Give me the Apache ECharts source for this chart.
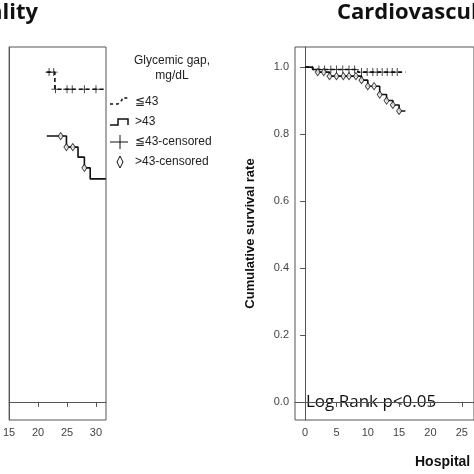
<!DOCTYPE html>
<html><head><meta charset="utf-8">
<script src="https://cdn.jsdelivr.net/npm/echarts@6/dist/echarts.min.js"></script>
<style>html,body{margin:0;padding:0;background:#fff}#c{width:474px;height:474px}</style>
</head><body><div id="c"></div>
<script>
// Left panel (All-cause mortality), visible part
const leftLowT = [21.5, 22.9, 31.7];
const leftLowS = [0.985, 0.934, 0.934];
const leftLowCensT = [21.9, 22.7, 23.0, 25.0, 25.9, 28.0, 30.0];
const leftLowCensS = [0.985, 0.985, 0.934, 0.934, 0.934, 0.934, 0.934];
const leftHighT = [21.5, 24.9, 26.9, 28.0, 29.0, 31.7];
const leftHighS = [0.794, 0.761, 0.731, 0.699, 0.666, 0.666];
const leftHighCensT = [23.9, 24.9, 26.0, 28.0];
const leftHighCensS = [0.794, 0.761, 0.761, 0.699];
// Right panel (Cardiovascular mortality), visible part
const rightLowT = [0, 1.2, 8.4, 16];
const rightLowS = [1.0, 0.993, 0.985, 0.985];
const rightLowCensT = [2.2, 3.1, 4.1, 5.0, 6.0, 7.0, 7.9, 9.0, 9.9, 10.8, 11.5, 12.3, 13.1, 13.9, 14.7];
const rightLowCensS = [0.993, 0.993, 0.993, 0.993, 0.993, 0.993, 0.993, 0.985, 0.985, 0.985, 0.985, 0.985, 0.985, 0.985, 0.985];
const rightHighT = [0, 1.2, 1.9, 3.9, 9.0, 10.0, 11.9, 13.0, 14.0, 15.0, 16];
const rightHighS = [1.0, 0.993, 0.985, 0.973, 0.961, 0.943, 0.918, 0.9, 0.887, 0.869, 0.869];
const rightHighCensT = [2.0, 2.97, 3.9, 5.0, 6.1, 7.0, 8.1, 9.0, 10.0, 11.0, 11.9, 13.0, 14.0, 15.0];
const rightHighCensS = [0.985, 0.985, 0.973, 0.973, 0.973, 0.973, 0.973, 0.961, 0.943, 0.943, 0.918, 0.9, 0.887, 0.869];
const yTicks = [0, 0.2, 0.4, 0.6, 0.8, 1.0];
const xTicks = [0, 5, 10, 15, 20, 25, 30];

const zip = (a, b) => a.map((v, i) => [v, b[i]]);
const plusPath = 'path://M0,4.4H10V5.6H0Z M4.4,0H5.6V10H4.4Z';
function line(t, s, gi, dashed) {
  return {type:'line', xAxisIndex:gi, yAxisIndex:gi, data:zip(t,s), step:'end', symbol:'none',
    lineStyle:{color:'#111', width:1.6, type: dashed ? [4,3] : 'solid'}, silent:true, clip:true};
}
function cens(t, s, gi, plus) {
  return {type:'scatter', xAxisIndex:gi, yAxisIndex:gi, data:zip(t,s),
    symbol: plus ? plusPath : 'diamond', symbolSize: plus ? 8 : [5,7],
    itemStyle: plus ? {color:'#111'} : {color:'#fff', borderColor:'#111', borderWidth:1}, silent:true, z:5};
}
const axX = (gi, min, max) => ({type:'value', gridIndex:gi, position:'bottom', min, max, splitLine:{show:false},
  axisLine:{show:true, lineStyle:{color:'#555'}},
  axisTick:{show:true, length:5, customValues:xTicks, lineStyle:{color:'#555'}},
  axisLabel:{customValues:xTicks, color:'#444', fontSize:11, fontFamily:'Liberation Sans', margin:7}});
const axY = (gi, labels) => ({type:'value', gridIndex:gi, position:'left', min:-0.054, max:1.06, splitLine:{show:false},
  axisLine:{show:true, lineStyle:{color:'#555'}},
  axisTick:{show:labels, length:5, customValues:yTicks, lineStyle:{color:'#555'}},
  axisLabel:{show:labels, customValues:yTicks, color:'#444', fontSize:11, fontFamily:'Liberation Sans', margin:6,
    formatter: v => v.toFixed(1)},
  name: labels ? 'Cumulative survival rate' : '', nameLocation:'middle', nameGap:38,
  nameTextStyle:{fontWeight:'bold', fontSize:13, fontFamily:'Liberation Sans', color:'#111'}});

const chart = echarts.init(document.getElementById('c'));
chart.setOption({
  animation:false,
  grid:[
    {left:-68, width:174, top:47, height:373, show:true, borderColor:'#555', borderWidth:1},
    {left:295, width:300, top:47, height:373, show:true, borderColor:'#555', borderWidth:1}
  ],
  xAxis:[axX(0, 15, 15 + 174/10.4), axX(1, -17/10.5, -17/10.5 + 300/10.5)],
  yAxis:[axY(0, false), axY(1, true)],
  series:[
    line(leftLowT, leftLowS, 0, true), line(leftHighT, leftHighS, 0, false),
    cens(leftLowCensT, leftLowCensS, 0, true), cens(leftHighCensT, leftHighCensS, 0, false),
    line(rightLowT, rightLowS, 1, true), line(rightHighT, rightHighS, 1, false),
    cens(rightLowCensT, rightLowCensS, 1, true), cens(rightHighCensT, rightHighCensS, 1, false)
  ],
  graphic:[
    {type:'text', x:38, y:13, style:{text:'All-cause mortality', align:'right', verticalAlign:'middle',
      font:'bold 22px "Open Sans"', fill:'#111'}},
    {type:'text', x:337, y:13, style:{text:'Cardiovascular mortality', verticalAlign:'middle',
      font:'bold 22px "Open Sans"', fill:'#111'}},
    {type:'text', x:306, y:402, style:{text:'Log Rank p<0.05', verticalAlign:'middle', font:'17px "Open Sans"', fill:'#111'}},
    {type:'text', x:415, y:462, style:{text:'Hospital days', verticalAlign:'middle', font:'bold 14px "Liberation Sans"', fill:'#111'}},
    {type:'text', x:172, y:61, style:{text:'Glycemic gap,', align:'center', verticalAlign:'middle', font:'12px "Liberation Sans"', fill:'#222'}},
    {type:'text', x:172, y:76, style:{text:'mg/dL', align:'center', verticalAlign:'middle', font:'12px "Liberation Sans"', fill:'#222'}},
    {type:'polyline', shape:{points:[[110,104],[118,104],[122,100],[122,98],[130,98]]}, style:{stroke:'#111', lineWidth:1.5, lineDash:[3,3], fill:null}},
    {type:'polyline', shape:{points:[[110,125],[118,125],[118,119],[128,119],[128,125]]}, style:{stroke:'#111', lineWidth:1.5, fill:null}},
    {type:'line', shape:{x1:110, y1:142, x2:128, y2:142}, style:{stroke:'#111', lineWidth:1}},
    {type:'line', shape:{x1:120, y1:135, x2:120, y2:149}, style:{stroke:'#111', lineWidth:1}},
    {type:'polygon', shape:{points:[[120,156],[123,162],[120,168],[117,162]]}, style:{stroke:'#111', fill:'#fff', lineWidth:1}},
    {type:'text', x:135, y:102, style:{text:'≦43', verticalAlign:'middle', font:'12px "Liberation Sans"', fill:'#222'}},
    {type:'text', x:135, y:122, style:{text:'>43', verticalAlign:'middle', font:'12px "Liberation Sans"', fill:'#222'}},
    {type:'text', x:135, y:142, style:{text:'≦43-censored', verticalAlign:'middle', font:'12px "Liberation Sans"', fill:'#222'}},
    {type:'text', x:135, y:162, style:{text:'>43-censored', verticalAlign:'middle', font:'12px "Liberation Sans"', fill:'#222'}}
  ]
});
</script></body></html>
